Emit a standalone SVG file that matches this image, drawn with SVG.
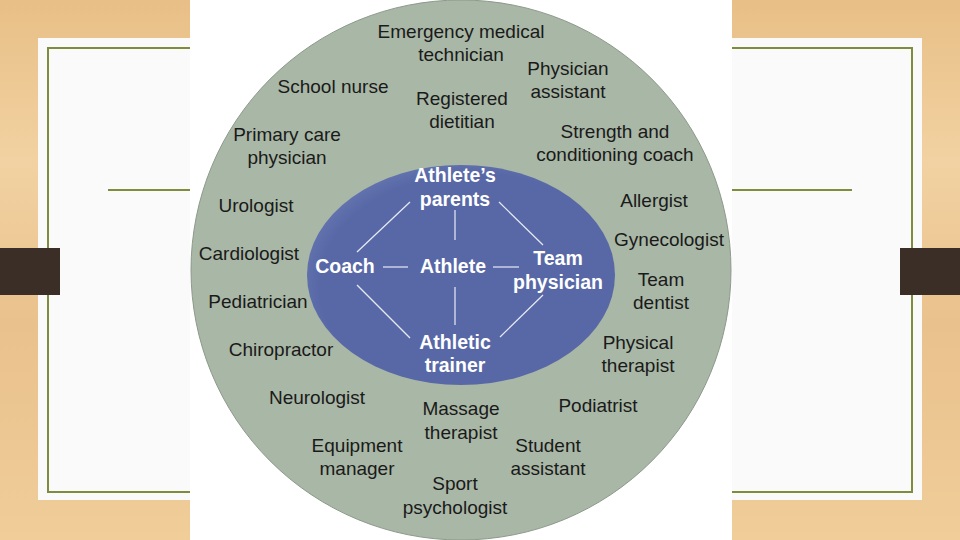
<svg xmlns="http://www.w3.org/2000/svg" width="960" height="540" viewBox="0 0 960 540">
<defs>
<linearGradient id="wood" x1="0" y1="0" x2="0" y2="1">
<stop offset="0" stop-color="#e8bf86"/><stop offset="0.3" stop-color="#f2d2a2"/><stop offset="0.6" stop-color="#e9c18c"/><stop offset="1" stop-color="#f0cd99"/>
</linearGradient>
<radialGradient id="blue" cx="0.55" cy="0.55" r="0.6">
<stop offset="0.85" stop-color="#5868a6"/><stop offset="1" stop-color="#6677b3"/>
</radialGradient>
<clipPath id="cl"><rect x="190" y="0" width="542" height="540"/></clipPath>
</defs>
<style>
.t{font-family:"Liberation Sans",Arial,sans-serif;font-size:19px;fill:#1a1a1a;text-anchor:middle}
.w{font-family:"Liberation Sans",Arial,sans-serif;font-size:19.5px;font-weight:bold;fill:#fff;text-anchor:middle}
.c line{stroke:#e8ecf6;stroke-width:1.2}
</style>
<rect width="960" height="540" fill="url(#wood)"/>
<rect x="38" y="38" width="884" height="462" fill="#fafafa"/>
<rect x="48" y="48" width="864" height="444" fill="none" stroke="#7f8c3e" stroke-width="2"/>
<line x1="108" y1="190" x2="190" y2="190" stroke="#7f8c3e" stroke-width="2"/>
<line x1="732" y1="190" x2="852" y2="190" stroke="#7f8c3e" stroke-width="2"/>
<rect x="0" y="248" width="60" height="47" fill="#3a2e26"/>
<rect x="900" y="248" width="60" height="47" fill="#3a2e26"/>
<rect x="190" y="0" width="542" height="540" fill="#ffffff"/>
<g id="outer" clip-path="url(#cl)">
<circle cx="461" cy="270" r="270" fill="#a9b7a6" stroke="#8d9a8b" stroke-width="1"/>
</g>
<g id="inner"><ellipse cx="461" cy="275" rx="154" ry="110" fill="url(#blue)"/></g>
<g class="c" id="connectors">
<line x1="357" y1="252" x2="410" y2="202"/><line x1="499" y1="202" x2="543" y2="245"/>
<line x1="357" y1="285" x2="410" y2="338"/><line x1="500" y1="337" x2="543" y2="295"/>
<line x1="455" y1="210" x2="455" y2="240"/><line x1="455" y1="287" x2="455" y2="325"/>
<line x1="383" y1="267" x2="408" y2="267"/><line x1="493" y1="267" x2="519" y2="267"/>
</g>
<g id="n-parents"><text class="w" x="455" y="182">Athlete’s</text><text class="w" x="455" y="206">parents</text></g>
<g id="n-coach"><text class="w" x="345" y="273">Coach</text></g>
<g id="n-athlete"><text class="w" x="453" y="273">Athlete</text></g>
<g id="n-team"><text class="w" x="558" y="265">Team</text><text class="w" x="558" y="289">physician</text></g>
<g id="n-trainer"><text class="w" x="455" y="349">Athletic</text><text class="w" x="455" y="372">trainer</text></g>
<g id="outer-labels">
<text class="t" x="461" y="38">Emergency medical</text><text class="t" x="461" y="61">technician</text>
<text class="t" x="333" y="93">School nurse</text>
<text class="t" x="568" y="75">Physician</text><text class="t" x="568" y="98">assistant</text>
<text class="t" x="462" y="105">Registered</text><text class="t" x="462" y="128">dietitian</text>
<text class="t" x="287" y="141">Primary care</text><text class="t" x="287" y="164">physician</text>
<text class="t" x="615" y="138">Strength and</text><text class="t" x="615" y="161">conditioning coach</text>
<text class="t" x="256" y="212">Urologist</text>
<text class="t" x="654" y="207">Allergist</text>
<text class="t" x="249" y="260">Cardiologist</text>
<text class="t" x="669" y="246">Gynecologist</text>
<text class="t" x="661" y="286">Team</text><text class="t" x="661" y="309">dentist</text>
<text class="t" x="258" y="308">Pediatrician</text>
<text class="t" x="281" y="356">Chiropractor</text>
<text class="t" x="638" y="349">Physical</text><text class="t" x="638" y="372">therapist</text>
<text class="t" x="317" y="404">Neurologist</text>
<text class="t" x="461" y="415">Massage</text><text class="t" x="461" y="439">therapist</text>
<text class="t" x="598" y="412">Podiatrist</text>
<text class="t" x="357" y="452">Equipment</text><text class="t" x="357" y="475">manager</text>
<text class="t" x="548" y="452">Student</text><text class="t" x="548" y="475">assistant</text>
<text class="t" x="455" y="490">Sport</text><text class="t" x="455" y="514">psychologist</text>
</g>
</svg>
